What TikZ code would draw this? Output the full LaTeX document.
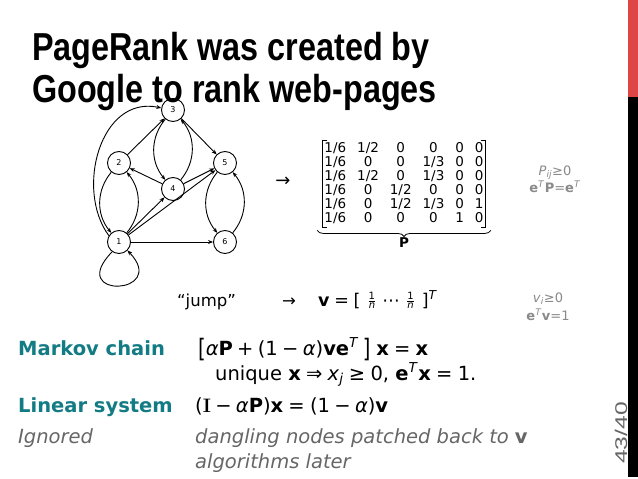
\documentclass[tikz,border=0pt]{standalone}
\usepackage{fontspec}
\setmainfont{DejaVu Sans}
\newfontfamily\titlefont[FakeStretch=0.83]{Liberation Sans}
\newfontfamily\numfont{Liberation Sans}
\newfontfamily\lmfont{Latin Modern Roman}
\usetikzlibrary{matrix,decorations.pathreplacing,arrows.meta}
\definecolor{tealc}{HTML}{127B84}
\definecolor{graytxt}{HTML}{666666}
\definecolor{sidegray}{HTML}{8A8A8A}
\definecolor{barred}{HTML}{E04545}
\newcommand\bbr[1]{\raisebox{-0.12em}{\scalebox{1}[1.3]{#1}}}
\newcommand\smfr{\raisebox{0.12em}{$\scriptstyle{\hbox{\fontsize{10}{10}\selectfont 1}\over\hbox{\fontsize{10}{10}\selectfont\itshape n}}$}}
\newcommand\bop[1]{\hspace{0.22em}#1\hspace{0.22em}}
\newcommand\brel[1]{\hspace{0.27em}#1\hspace{0.27em}}
\tikzset{
  vtx/.style={circle,draw,line width=0.9pt,minimum size=23pt,inner sep=0pt,font=\fontsize{8}{8}\selectfont},
  edge/.style={line width=0.9pt,-{Stealth[length=5pt,width=4pt]}},
  body/.style={anchor=base west,inner sep=0pt,font=\fontsize{19.5}{23}\selectfont},
  sidenote/.style={anchor=base,inner sep=0pt,text=sidegray,font=\fontsize{13}{14}\selectfont},
  titletext/.style={anchor=base west,inner sep=0pt,font=\titlefont\bfseries\fontsize{39}{42}\selectfont}
}
\begin{document}
\begin{tikzpicture}[x=1pt,y=-1pt]
\useasboundingbox (0,0) rectangle (638,479);
\fill[white] (0,0) rectangle (638,479);
% side bar
\fill[barred] (628,0) rectangle (638,97);
\fill[black] (628,97) rectangle (638,477);
\node[rotate=90,inner sep=0pt,text=graytxt,font=\numfont\fontsize{17}{17}\selectfont] (pnum) at (621,433) {\scalebox{1.45}[1]{43/40}};
% title
\node[titletext] (t1) at (32,60) {PageRank was created by};
\node[titletext] (t2) at (32,102) {Google to rank web-pages};
% graph
\node[vtx] (n3) at (173,110) {3};
\node[vtx] (n2) at (119,163) {2};
\node[vtx] (n5) at (225,163) {5};
\node[vtx] (n4) at (173,189) {4};
\node[vtx] (n1) at (119,242) {1};
\node[vtx] (n6) at (225,242) {6};
\draw[edge] (n2) -- (n3);
\draw[edge] (n3) -- (n5);
\draw[edge] (n4) -- (n2);
\draw[edge] (n4) -- (n5);
\draw[edge] (n1) -- (n4);
\draw[edge] (n1) -- (n5);
\draw[edge] (n1) -- (n6);
\draw[edge] (n3) to[bend right=40] (n4);
\draw[edge] (n4) to[bend right=40] (n3);
\draw[edge] (n2) to[bend right=40] (n1);
\draw[edge] (n1) to[bend right=40] (n2);
\draw[edge] (n5) to[bend right=40] (n6);
\draw[edge] (n6) to[bend right=40] (n5);
\draw[edge] (n1.148) .. controls (75,190) and (100,95) .. (n3.170);
\draw[edge] (n1.235) .. controls (65,300) and (170,295) .. (n1.315);
% arrow to matrix
\node[inner sep=0pt,font=\fontsize{18}{18}\selectfont] (arr1) at (283,182) {→};
% matrix
\matrix (P) [matrix of nodes, inner sep=2pt, column sep=11pt, row sep=1.5pt,
  nodes={inner sep=0pt,text height=9.5pt,text depth=3pt,font=\fontsize{13.5}{13.5}\selectfont}] at (404,184) {
1/6 & 1/2 & 0 & 0 & 0 & 0\\
1/6 & 0 & 0 & 1/3 & 0 & 0\\
1/6 & 1/2 & 0 & 1/3 & 0 & 0\\
1/6 & 0 & 1/2 & 0 & 0 & 0\\
1/6 & 0 & 1/2 & 1/3 & 0 & 1\\
1/6 & 0 & 0 & 0 & 1 & 0\\
};
\draw[line width=0.8pt] ([xshift=5pt]P.north west) -- (P.north west) -- (P.south west) -- ([xshift=5pt]P.south west);
\draw[line width=0.8pt] ([xshift=-5pt]P.north east) -- (P.north east) -- (P.south east) -- ([xshift=-5pt]P.south east);
\draw[line width=0.8pt,decorate,decoration={brace,mirror,amplitude=6pt}]
  ([xshift=-5pt,yshift=-3pt]P.south west) -- ([xshift=5pt,yshift=-3pt]P.south east)
  node[midway,below=7pt,inner sep=0pt,font=\fontsize{13.5}{13.5}\selectfont\bfseries] (Plab) {P};
\node[sidenote] (note1a) at (555,175) {\textit{P}\textsubscript{\textit{ij}}≥0};
\node[sidenote] (note1b) at (555,192) {\textbf{e}\textsuperscript{\textit{T}}\textbf{P}=\textbf{e}\textsuperscript{\textit{T}}};
% jump line
\node[anchor=base west,inner sep=0pt,font=\fontsize{16.5}{18}\selectfont] (jump) at (177,306) {“jump”};
\node[anchor=base,inner sep=0pt,font=\fontsize{16.5}{18}\selectfont] (arr2) at (289,306) {→};
\node[anchor=base west,inner sep=0pt,font=\fontsize{17.5}{18}\selectfont] (vdef) at (318,306)
  {\textbf{v}\brel{=}[\hspace{0.4em}\smfr\hspace{0.35em}⋯\hspace{0.35em}\smfr\hspace{0.4em}]\textsuperscript{\textit{T}}};
\node[sidenote] (note2a) at (548,302) {\textit{v}\textsubscript{\textit{i}}≥0};
\node[sidenote] (note2b) at (548,320) {\textbf{e}\textsuperscript{\textit{T}}\textbf{v}=1};
% bottom rows
\node[body,text=tealc,font=\fontsize{19.5}{23}\selectfont\bfseries] (mk) at (18,355) {Markov chain};
\node[body] (mkf1) at (198,355) {\bbr{[}\textit{α}\textbf{P}\bop{+}(1\bop{−}\textit{α})\textbf{ve}\textsuperscript{\textit{T}}\hspace{0.2em}\bbr{]}\hspace{0.3em}\textbf{x}\brel{=}\textbf{x}};
\node[body] (mkf2) at (215,380) {unique \textbf{x}\brel{⇒}\textit{x}\textsubscript{\textit{j}}\brel{≥}0, \textbf{e}\textsuperscript{\textit{T}}\textbf{x}\brel{=}1.};
\node[body,text=tealc,font=\fontsize{19.5}{23}\selectfont\bfseries] (ls) at (18,412) {Linear system};
\node[body] (lsf) at (195,412) {({\lmfont\bfseries I}\bop{−}\textit{α}\textbf{P})\textbf{x}\brel{=}(1\bop{−}\textit{α})\textbf{v}};
\node[body,text=graytxt,font=\fontsize{19.5}{23}\selectfont\itshape] (ig) at (18,443) {Ignored};
\node[body,text=graytxt,font=\fontsize{19.5}{23}\selectfont\itshape] (ig1) at (195,443) {dangling nodes patched back to \textbf{\upshape v}};
\node[body,text=graytxt,font=\fontsize{19.5}{23}\selectfont\itshape] (ig2) at (195,468) {algorithms later};
\end{tikzpicture}
\end{document}
